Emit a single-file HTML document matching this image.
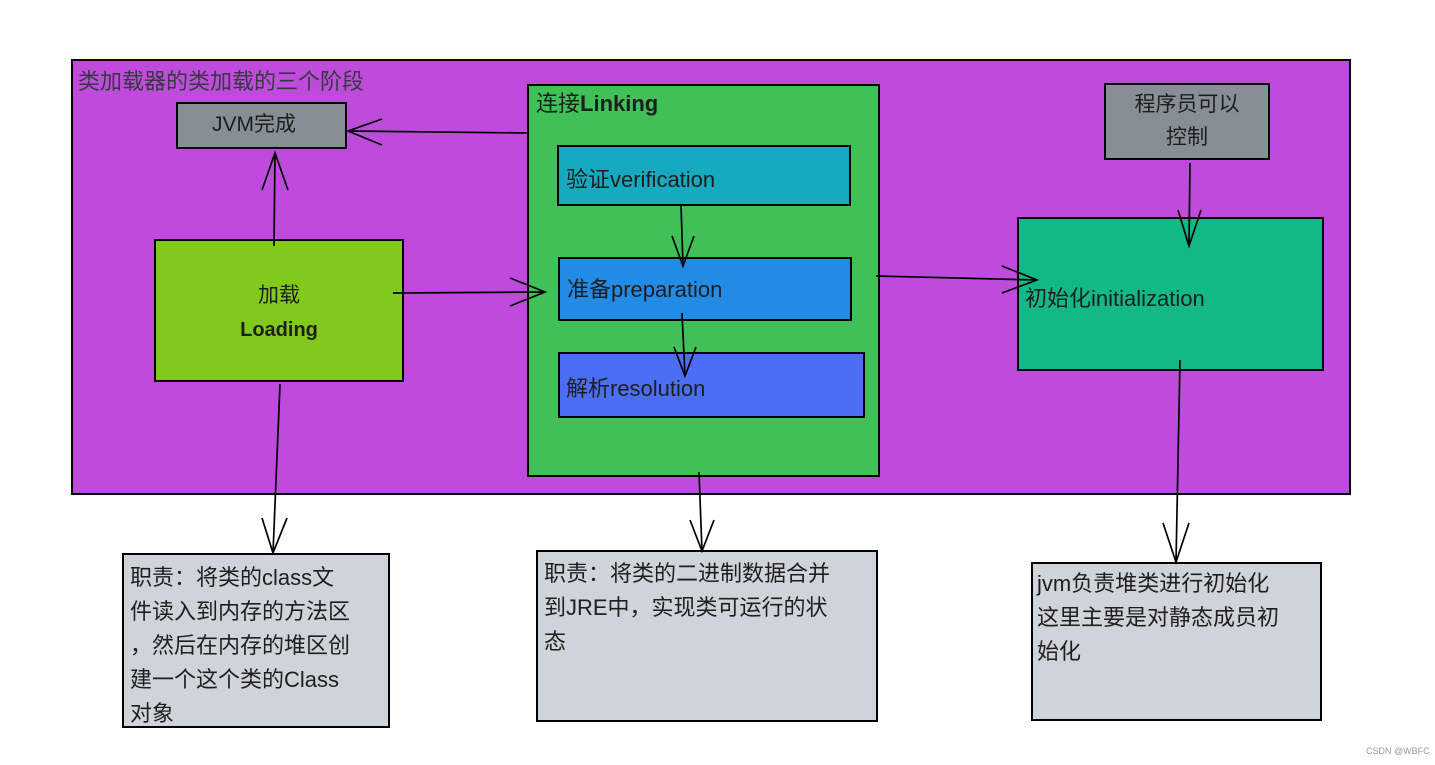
<!DOCTYPE html>
<html><head><meta charset="utf-8"><style>
body{margin:0;background:#fff;width:1435px;height:765px;overflow:hidden;position:relative;font-family:"Liberation Sans","Noto Sans CJK SC",sans-serif}
svg{position:absolute;left:0;top:0}
.t{position:absolute;color:#1e1e1e;font-size:21px;line-height:30px;white-space:nowrap}
</style></head><body>
<svg width="1435" height="765">
<g stroke="#000" stroke-width="2">
<rect x="72" y="60" width="1278" height="434" fill="#BE4BDB"/>
<rect x="177" y="103" width="169" height="45" fill="#868E96"/>
<rect x="155" y="240" width="248" height="141" fill="#82C91E"/>
<rect x="528" y="85" width="351" height="391" fill="#40C057"/>
<rect x="558" y="146" width="292" height="59" fill="#15AABF"/>
<rect x="559" y="258" width="292" height="62" fill="#228BE6"/>
<rect x="559" y="353" width="305" height="64" fill="#4C6EF5"/>
<rect x="1105" y="84" width="164" height="75" fill="#868E96"/>
<rect x="1018" y="218" width="305" height="152" fill="#12B886"/>
<rect x="123" y="554" width="266" height="173" fill="#CED4DA"/>
<rect x="537" y="551" width="340" height="170" fill="#CED4DA"/>
<rect x="1032" y="563" width="289" height="157" fill="#CED4DA"/>
</g>
<g stroke="#000" stroke-width="1.7" fill="none">
<path d="M528 133 L348 131 M382 119 L348 131 L382 145"/>
<path d="M274 246 L275 153 M262 190 L275 153 L288 190"/>
<path d="M393 293 L545 292 M510 278 L545 292 L510 306"/>
<path d="M681 205 L683 266 M672 236 L683 266 L694 236"/>
<path d="M682 313 L685 376 M674 347 L685 376 L696 347"/>
<path d="M876 276 L1037 280 M1002 266 L1037 280 L1002 293"/>
<path d="M1190 163 L1189 246 M1178 210 L1189 246 L1201 210"/>
<path d="M280 384 L273 553 M262 518 L273 553 L287 518"/>
<path d="M699 472 L702 551 M690 520 L702 551 L714 520"/>
<path d="M1180 360 L1176 562 M1163 523 L1176 562 L1189 523"/>
</g>
</svg>
<div class="t" style="left:78px;top:67px;color:#343a40;font-size:22px">类加载器的类加载的三个阶段</div>
<div class="t" style="left:212px;top:110px;">JVM完成</div>
<div class="t" style="left:155px;top:279px;width:248px;text-align:center;line-height:34px">加载<br><b style="font-size:20px">Loading</b></div>
<div class="t" style="left:536px;top:89px;font-size:22px">连接<b>Linking</b></div>
<div class="t" style="left:566px;top:165px;font-size:22px">验证verification</div>
<div class="t" style="left:567px;top:275px;font-size:22px">准备preparation</div>
<div class="t" style="left:566px;top:374px;font-size:22px">解析resolution</div>
<div class="t" style="left:1105px;top:88px;width:164px;text-align:center;line-height:33px">程序员可以<br>控制</div>
<div class="t" style="left:1025px;top:284px;font-size:22px">初始化initialization</div>
<div class="t" style="left:130px;top:561px;line-height:34px;font-size:22px">职责：将类的class文<br>件读入到内存的方法区<br>，然后在内存的堆区创<br>建一个这个类的Class<br>对象</div>
<div class="t" style="left:544px;top:557px;line-height:34px;font-size:22px">职责：将类的二进制数据合并<br>到JRE中，实现类可运行的状<br>态</div>
<div class="t" style="left:1037px;top:567px;line-height:34px;font-size:22px">jvm负责堆类进行初始化<br>这里主要是对静态成员初<br>始化</div>
<div style="position:absolute;left:1366px;top:746px;font-size:9px;color:#999">CSDN @WBFC</div>
</body></html>
